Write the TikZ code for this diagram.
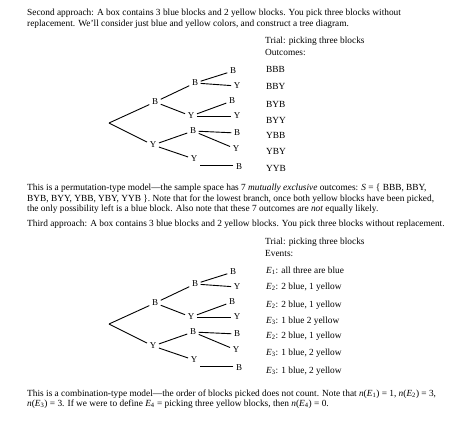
\documentclass[tikz,border=0pt]{standalone}
\usepackage{fontspec}
\setmainfont{Liberation Serif}
\newcommand{\ev}[1]{\textit{E}\textsubscript{#1}}

\begin{document}
\begin{tikzpicture}[
    x=1pt, y=-1pt,
    txt/.style={anchor=west, inner sep=0pt, font=\fontsize{9.35}{10.5}\selectfont},
    lbl/.style={inner sep=2.5pt, font=\fontsize{9}{10}\selectfont},
    branch/.style={line width=0.9pt}
]
\useasboundingbox (0,0) rectangle (474,445);

% text above the first tree
\node[txt] (p1a) at (27,13) {Second approach: A box contains 3 blue blocks and 2 yellow blocks. You pick three blocks without};
\node[txt] (p1b) at (27,24) {replacement. We’ll consider just blue and yellow colors, and construct a tree diagram.};
\node[txt] (tr1) at (265,41) {Trial: picking three blocks};
\node[txt] (oc) at (265,52) {Outcomes:};

% the two trees have the same shape
\foreach \t/\dy in {a/0, b/201} {
  \begin{scope}[yshift=-\dy pt]
    \coordinate (\t root) at (109,123);
    \node[lbl] (\t B) at (155,102) {B};
    \node[lbl] (\t Y) at (153,145) {Y};
    \node[lbl] (\t BB) at (195,83) {B};
    \node[lbl] (\t BY) at (191,116) {Y};
    \node[lbl] (\t YB) at (193,131) {B};
    \node[lbl] (\t YY) at (194,159) {Y};
    \node[lbl] (\t BBB) at (233,71) {B};
    \node[lbl] (\t BBY) at (237,86) {Y};
    \node[lbl] (\t BYB) at (232,101) {B};
    \node[lbl] (\t BYY) at (237,116) {Y};
    \node[lbl] (\t YBB) at (237,133) {B};
    \node[lbl] (\t YBY) at (236,149) {Y};
    \node[lbl] (\t YYB) at (239,167) {B};

    \draw[branch] (\t root) -- (\t B);
    \draw[branch] (\t root) -- (\t Y);
    \draw[branch] (\t B) -- (\t BB);
    \draw[branch] (\t B) -- (\t BY);
    \draw[branch] (\t Y) -- (\t YB);
    \draw[branch] (\t Y) -- (\t YY);
    \draw[branch] (\t BB) -- (\t BBB);
    \draw[branch] (\t BB) -- (\t BBY);
    \draw[branch] (\t BY) -- (\t BYB);
    \draw[branch] (\t BY) -- (\t BYY);
    \draw[branch] (\t YB) -- (\t YBB);
    \draw[branch] (\t YB) -- (\t YBY);
    \draw[branch] ([yshift=2pt]\t YYB.west) -- ([yshift=2pt]\t YYB.west -| \t YY.east);
  \end{scope}
}

% outcomes
\node[txt] (o1) at (266,69) {BBB};
\node[txt] (o2) at (266,86) {BBY};
\node[txt] (o3) at (266,104) {BYB};
\node[txt] (o4) at (266,120) {BYY};
\node[txt] (o5) at (266,135) {YBB};
\node[txt] (o6) at (266,151) {YBY};
\node[txt] (o7) at (266,168) {YYB};

% middle text
\node[txt] (p2a) at (27,188) {This is a permutation-type model—the sample space has 7 \textit{mutually exclusive} outcomes: \textit{S} = \{ BBB, BBY,};
\node[txt] (p2b) at (27,199) {BYB, BYY, YBB, YBY, YYB \}. Note that for the lowest branch, once both yellow blocks have been picked,};
\node[txt] (p2c) at (27,209) {the only possibility left is a blue block. Also note that these 7 outcomes are \textit{not} equally likely.};
\node[txt] (p3a) at (27,224) {Third approach: A box contains 3 blue blocks and 2 yellow blocks. You pick three blocks without replacement.};
\node[txt] (tr2) at (265,242) {Trial: picking three blocks};
\node[txt] (evs) at (265,253) {Events:};

% events
\node[txt] (e1) at (266,271) {\ev{1}: all three are blue};
\node[txt] (e2) at (266,287) {\ev{2}: 2 blue, 1 yellow};
\node[txt] (e3) at (266,305) {\ev{2}: 2 blue, 1 yellow};
\node[txt] (e4) at (266,321) {\ev{3}: 1 blue 2 yellow};
\node[txt] (e5) at (266,336) {\ev{2}: 2 blue, 1 yellow};
\node[txt] (e6) at (266,353) {\ev{3}: 1 blue, 2 yellow};
\node[txt] (e7) at (266,371) {\ev{3}: 1 blue, 2 yellow};

% last text
\node[txt] (p4a) at (27,394) {This is a combination-type model—the order of blocks picked does not count. Note that \textit{n}(\ev{1}) = 1, \textit{n}(\ev{2}) = 3,};
\node[txt] (p4b) at (27,404) {\textit{n}(\ev{3}) = 3. If we were to define \ev{4} = picking three yellow blocks, then \textit{n}(\ev{4}) = 0.};

\end{tikzpicture}
\end{document}
